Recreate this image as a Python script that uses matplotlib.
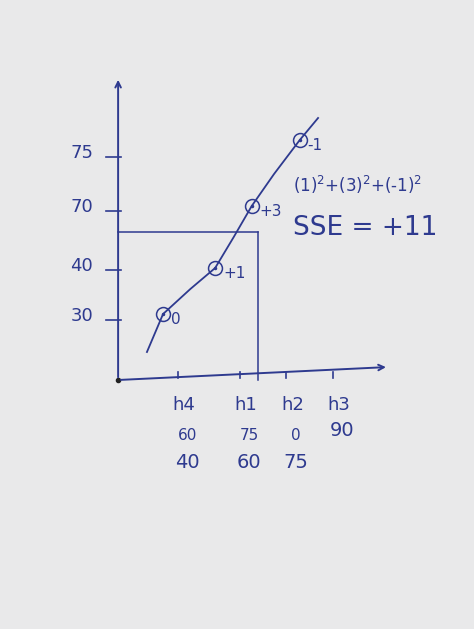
import matplotlib
matplotlib.use("Agg")
import matplotlib.pyplot as plt

# data
x_tick_names = ["h4", "h1", "h2", "h3"]
x_tick_vals = [40, 60, 75, 90]
y_tick_labels = ["30", "40", "70", "75"]
y_tick_pos = [309, 359, 418, 472]
pt_x = [35.2, 52.0, 63.8, 79.3]
pt_y = [315, 361, 423, 489]
pt_labels = ["0", "+1", "+3", "-1"]
curve_x = [30, 35.2, 44, 52.0, 58, 63.8, 71, 79.3, 85.2]
curve_y = [277, 315, 340, 361, 392, 423, 455, 489, 511]
under_old = ["60", "75", "0"]
under_new = ["40", "60", "75"]

ink = "#2e3a8f"
fig = plt.figure(figsize=(4.74, 6.29), dpi=100)
fig.patch.set_facecolor("#e9e9ea")
ax = fig.add_axes([0, 0, 1, 1])
ax.set_facecolor("#e9e9ea")
ax.set_xlim(-17.4, 135.5)
ax.set_ylim(0, 629)
ax.axis("off")

ox, oy = 20.7, 249
# axes arrows
ax.annotate("", xy=(ox, 552), xytext=(ox, oy), arrowprops=dict(arrowstyle="->", color=ink, lw=1.4))
ax.annotate("", xy=(108, 262), xytext=(ox, oy), arrowprops=dict(arrowstyle="->", color=ink, lw=1.4))
ax.plot([ox], [oy], "o", color="#222", ms=3)
# y ticks
for p, l in zip(y_tick_pos, y_tick_labels):
    ax.plot([ox - 4, ox + 1], [p, p], color=ink, lw=1.2)
    ax.text(ox - 8, p + 4, l, color=ink, fontsize=13, ha="right", va="center")
# x ticks
for v, n in zip(x_tick_vals, x_tick_names):
    ax.plot([v, v], [oy + 2, oy + 8], color=ink, lw=1.2)
    ax.text(v + 2, oy - 25, n, color=ink, fontsize=13, ha="center", va="center")
for v, o in zip(x_tick_vals[:3], under_old):
    ax.text(v + 3, oy - 55, o, color=ink, fontsize=11, ha="center", va="center")
for v, n in zip(x_tick_vals[:3], under_new):
    ax.text(v + 3, oy - 83, n, color=ink, fontsize=14, ha="center", va="center")
ax.text(x_tick_vals[3] + 3, oy - 50, "90", color=ink, fontsize=14, ha="center", va="center")
# box
ax.plot([ox, 65.8], [397, 397], color=ink, lw=1.1)
ax.plot([65.8, 65.8], [397, oy], color=ink, lw=1.1)
# curve and points
ax.plot(curve_x, curve_y, color=ink, lw=1.3)
ax.plot(pt_x, pt_y, "o", mfc="none", mec=ink, ms=10, mew=1.1)
ax.plot(pt_x, pt_y, ".", color=ink, ms=3)
for x, y, l in zip(pt_x, pt_y, pt_labels):
    ax.text(x + 2.5, y - 6, l, color=ink, fontsize=11, va="center")
ax.text(77, 444, "(1)$^2$+(3)$^2$+(-1)$^2$", color=ink, fontsize=12, va="center")
ax.text(77, 401, "SSE = +11", color=ink, fontsize=19, va="center")
fig.savefig("out.png", dpi=100, facecolor=fig.get_facecolor())
